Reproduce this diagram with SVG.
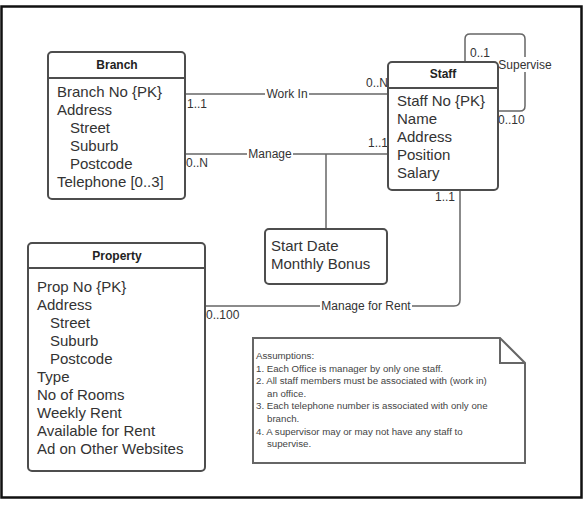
<svg xmlns="http://www.w3.org/2000/svg" width="585" height="506" viewBox="0 0 585 506">
<style>
.box{fill:#fff;stroke:#4d4d4d;stroke-width:2}
.sep{stroke:#4d4d4d;stroke-width:2}
.ttl{font-family:"Liberation Sans",Arial,sans-serif;font-size:12px;font-weight:bold;fill:#222;text-anchor:middle}
.att{font-family:"Liberation Sans",Arial,sans-serif;font-size:15px;fill:#333}
.lbl{font-family:"Liberation Sans",Arial,sans-serif;font-size:12px;fill:#333}
.mid{text-anchor:middle}
.end{text-anchor:end}
.con{fill:none;stroke:#666;stroke-width:1.5}
.bg{fill:#fff}
.note{font-family:"Liberation Sans",Arial,sans-serif;font-size:9.7px;fill:#444}
</style>
<rect x="0" y="0" width="585" height="506" fill="#fff"/>
<rect x="1.5" y="6.5" width="580" height="491" fill="none" stroke="#111" stroke-width="2.5"/>

<g id="connectors">
  <path class="con" d="M185 94 H388"/>
  <rect class="bg" x="265" y="87" width="44" height="14"/>
  <text class="lbl mid" x="287" y="98">Work In</text>
  <text class="lbl" x="187" y="108">1..1</text>
  <text class="lbl end" x="388" y="87">0..N</text>

  <path class="con" d="M185 154 H388"/>
  <path class="con" d="M326 154 V229"/>
  <rect class="bg" x="247" y="147" width="46" height="14"/>
  <text class="lbl mid" x="270" y="158">Manage</text>
  <text class="lbl" x="186" y="167">0..N</text>
  <text class="lbl end" x="388" y="147">1..1</text>

  <path class="con" d="M460 190 V300 Q460 306 454 306 H205"/>
  <rect class="bg" x="320" y="299" width="92" height="14"/>
  <text class="lbl mid" x="366" y="310">Manage for Rent</text>
  <text class="lbl" x="206" y="319">0..100</text>
  <text class="lbl end" x="455" y="201">1..1</text>

  <path class="con" d="M465 62 V39 Q465 34 470 34 H520 Q525 34 525 39 V106 Q525 111 520 111 H498"/>
  <rect class="bg" x="498" y="57" width="55" height="15"/>
  <text class="lbl mid" x="525" y="69">Supervise</text>
  <text class="lbl" x="470" y="57">0..1</text>
  <text class="lbl" x="498" y="124">0..10</text>
</g>

<g id="branch">
  <rect class="box" x="48" y="52" width="137" height="147" rx="4"/>
  <line class="sep" x1="48" y1="78" x2="185" y2="78"/>
  <text class="ttl" x="117" y="69">Branch</text>
  <text class="att" x="57" y="97">Branch No {PK}</text>
  <text class="att" x="57" y="115">Address</text>
  <text class="att" x="70" y="133">Street</text>
  <text class="att" x="70" y="151">Suburb</text>
  <text class="att" x="70" y="169">Postcode</text>
  <text class="att" x="57" y="187">Telephone [0..3]</text>
</g>

<g id="staff">
  <rect class="box" x="388" y="62" width="110" height="128" rx="4"/>
  <line class="sep" x1="388" y1="88" x2="498" y2="88"/>
  <text class="ttl" x="443" y="78">Staff</text>
  <text class="att" x="397" y="106">Staff No {PK}</text>
  <text class="att" x="397" y="124">Name</text>
  <text class="att" x="397" y="142">Address</text>
  <text class="att" x="397" y="160">Position</text>
  <text class="att" x="397" y="178">Salary</text>
</g>

<g id="manage-attributes">
  <rect class="box" x="265" y="229" width="122" height="55" rx="4"/>
  <text class="att" x="271" y="251">Start Date</text>
  <text class="att" x="271" y="269">Monthly Bonus</text>
</g>

<g id="property">
  <rect class="box" x="28" y="243" width="177" height="228" rx="4"/>
  <line class="sep" x1="28" y1="268" x2="205" y2="268"/>
  <text class="ttl" x="117" y="260">Property</text>
  <text class="att" x="37" y="292">Prop No {PK}</text>
  <text class="att" x="37" y="310">Address</text>
  <text class="att" x="50" y="328">Street</text>
  <text class="att" x="50" y="346">Suburb</text>
  <text class="att" x="50" y="364">Postcode</text>
  <text class="att" x="37" y="382">Type</text>
  <text class="att" x="37" y="400">No of Rooms</text>
  <text class="att" x="37" y="418">Weekly Rent</text>
  <text class="att" x="37" y="436">Available for Rent</text>
  <text class="att" x="37" y="454">Ad on Other Websites</text>
</g>

<g id="assumptions">
  <path d="M253 338 H500 L525 363 V463 H253 Z" fill="#fff" stroke="#666" stroke-width="2"/>
  <path d="M500 338 V363 H525" fill="none" stroke="#666" stroke-width="2"/>
  <text class="note" x="256" y="359">Assumptions:</text>
  <text class="note" x="256" y="371.6">1. Each Office is manager by only one staff.</text>
  <text class="note" x="256" y="384.2">2. All staff members must be associated with (work in)</text>
  <text class="note" x="267" y="396.8">an office.</text>
  <text class="note" x="256" y="409.4">3. Each telephone number is associated with only one</text>
  <text class="note" x="267" y="422">branch.</text>
  <text class="note" x="256" y="434.6">4. A supervisor may or may not have any staff to</text>
  <text class="note" x="267" y="447.2">supervise.</text>
</g>
</svg>
